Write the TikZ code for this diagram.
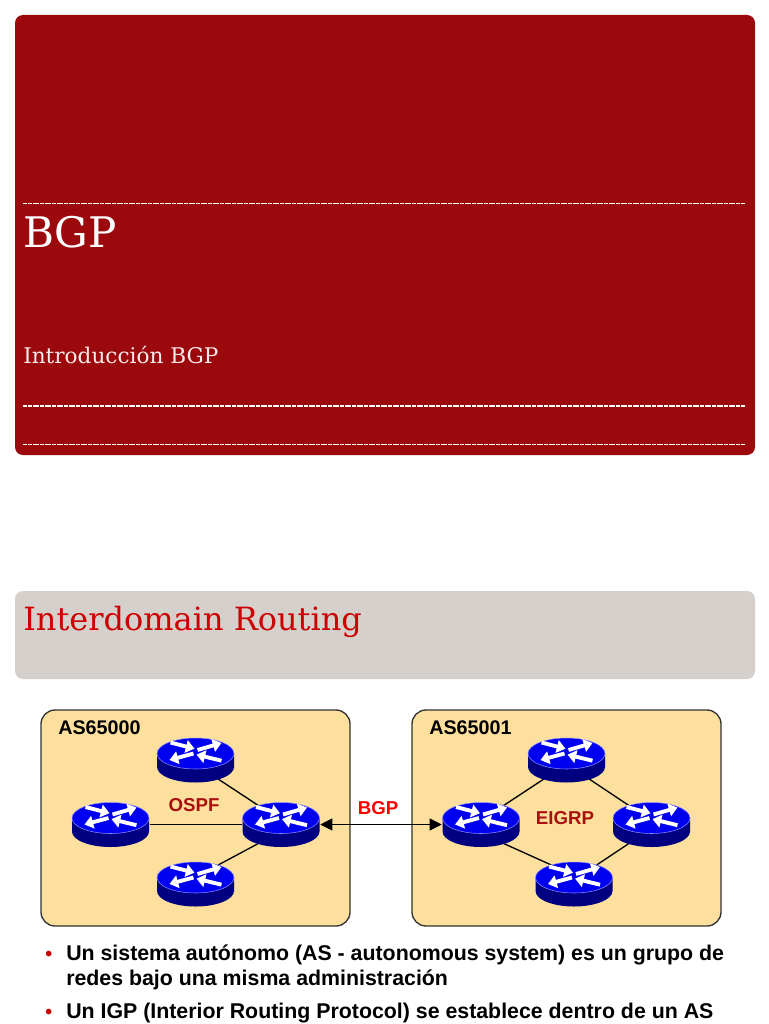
\documentclass[tikz,border=0pt]{standalone}
\usepackage{fontspec}
\setmainfont{Liberation Sans}
\newfontfamily\titlefont{DejaVu Serif}
\usetikzlibrary{arrows.meta,shapes.geometric}
\definecolor{slidered}{HTML}{9B090D}
\definecolor{slidegray}{HTML}{D5D0CC}
\definecolor{asfill}{HTML}{FDE09D}
\definecolor{routertop}{HTML}{0000F0}
\definecolor{routerside}{HTML}{000080}
\definecolor{protored}{HTML}{A81010}
\tikzset{
	routernode/.style={ellipse,minimum width=58.5pt,minimum height=34.5pt,inner sep=0pt},
	rule/.style={white,line width=0.9pt,dash pattern=on 1.5pt off 0.3pt},
	asbox/.style={draw=black!80,fill=asfill,line width=1pt,rounded corners=10.5pt},
	link/.style={black,line width=1pt},
	aslabel/.style={anchor=base west,font=\fontsize{14.8}{18}\bfseries},
	protolabel/.style={font=\fontsize{14}{17}\bfseries,text=protored},
	itemtext/.style={anchor=base west,font=\fontsize{16}{19}\bfseries},
	itembullet/.style={anchor=base west,text=red!80!black,font=\fontsize{14.7}{18}\bfseries},
	pics/router/.style={code={
		\fill [routerside] (-38.5,6.5) -- (-38.5,-7) arc [start angle=180,end angle=360,x radius=38.5,y radius=15.5] -- (38.5,6.5) -- cycle;
		\draw [fill=routertop,draw=blue!45!white,line width=0.4pt] (0,6.5) ellipse [x radius=38.5,y radius=15.5];
		\foreach \tx/\ty/\hx/\hy in {-25/17.5/-1/11.3,2/10/26/17,-2/6.5/-26/0,26/-0.7/1/5.4}
			\draw [white,line width=2.9pt,-{Triangle[length=6.5pt,width=9.5pt]}] (\tx,\ty) -- (\hx,\hy);
	}}
}
\begin{document}
\begin{tikzpicture}[x=0.75pt,y=0.75pt]
	\tikzstyle{every node}+=[inner sep=0pt]
	\useasboundingbox (0,0) rectangle (768,-1024);
	\fill [slidered,rounded corners=6pt] (15,-15) rectangle (755,-455);
	\draw [rule] (23,-203.5) -- (745,-203.5);
	\draw [rule] (23,-406) -- (745,-406);
	\draw [rule] (23,-444.5) -- (745,-444.5);
	\node [anchor=base west,text=white,font=\titlefont\fontsize{31.6}{36}\selectfont] (title) at (23,-247) {BGP};
	\node [anchor=base west,text=white!92!slidered,font=\titlefont\fontsize{16.2}{19}\selectfont] (subtitle) at (23,-363) {Introducción BGP};
	\fill [slidegray,rounded corners=6pt] (15,-591) rectangle (755,-679);
	\node [anchor=base west,text=red!80!black,font=\titlefont\fontsize{24}{28}\selectfont] (heading) at (23,-630.5) {Interdomain Routing};
	\draw [asbox] (41,-710) rectangle (350,-926);
	\draw [asbox] (412,-710) rectangle (721,-926);
	\node [aslabel] (asleft) at (58,-734) {AS65000};
	\node [aslabel] (asright) at (429,-734) {AS65001};
	\node [protolabel] (ospf) at (194,-805) {OSPF};
	\node [protolabel] (eigrp) at (565,-818) {EIGRP};
	\node [font=\fontsize{14}{17}\bfseries,text=red] (bgp) at (378,-808) {BGP};
	\node [routernode] (at) at (195.5,-760) {};
	\node [routernode] (al) at (110.5,-824.5) {};
	\node [routernode] (ar) at (281,-824.5) {};
	\node [routernode] (ab) at (195.5,-884) {};
	\node [routernode] (bt) at (566.5,-760) {};
	\node [routernode] (bl) at (481,-824.5) {};
	\node [routernode] (br) at (651.5,-824.5) {};
	\node [routernode] (bb) at (574,-884) {};
	\draw [link] (at.-40) -- (ar.140);
	\draw [link] (al) -- (ar);
	\draw [link] (ab.40) -- (ar.-140);
	\draw [link] (bt.-140) -- (bl.40);
	\draw [link] (bt.-40) -- (br.140);
	\draw [link] (bl.-40) -- (bb.140);
	\draw [link] (bb.40) -- (br.-140);
	\draw [black,line width=0.7pt,{Triangle[length=9pt,width=9pt]}-{Triangle[length=9pt,width=9pt]}] (ar.east) -- (bl.west);
	\foreach \r in {at,al,ar,ab,bt,bl,br,bb}
		\pic at (\r) {router};
	\node [itembullet] (dota) at (45,-960) {•};
	\node [itemtext] (linea) at (66,-960) {Un sistema autónomo (AS - autonomous system) es un grupo de};
	\node [itemtext] (lineb) at (66,-985.5) {redes bajo una misma administración};
	\node [itembullet] (dotb) at (45,-1018) {•};
	\node [itemtext] (linec) at (66,-1018) {Un IGP (Interior Routing Protocol) se establece dentro de un AS};
\end{tikzpicture}
\end{document}
